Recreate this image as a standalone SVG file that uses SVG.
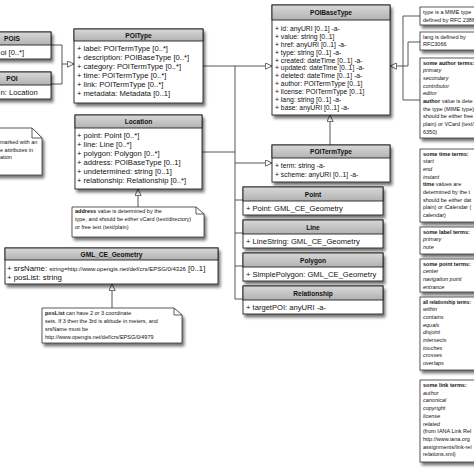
<svg xmlns="http://www.w3.org/2000/svg" width="474" height="474" viewBox="0 0 474 474">
<defs>
<style>
.box{fill:#fff;stroke:#222;stroke-width:0.9}
.hdr{fill:url(#hg);stroke:#222;stroke-width:0.9}
.note{fill:#fff;stroke:#333;stroke-width:0.8}
.fold{fill:none;stroke:#333;stroke-width:0.8}
text{font-family:"Liberation Sans",Arial,sans-serif;fill:#111}
.r{font-size:7.6px}
.rs{font-size:6.8px}
.rg{font-size:7.8px}
.h{font-size:6.6px;font-weight:bold;text-anchor:middle}
.n{font-size:5.5px}
.b{font-weight:bold}
.i{font-style:italic}
.c{stroke:#444;stroke-width:0.9;fill:none}
.a{marker-end:url(#tri)}
</style>
<linearGradient id="hg" x1="0" y1="0" x2="0" y2="1">
<stop offset="0" stop-color="#d8d8d8"/>
<stop offset="1" stop-color="#b2b2b2"/>
</linearGradient>
<filter id="sh" x="-10%" y="-10%" width="130%" height="140%">
<feGaussianBlur in="SourceAlpha" stdDeviation="1.4"/>
<feOffset dx="1.5" dy="2.5"/>
<feComponentTransfer><feFuncA type="linear" slope="0.55"/></feComponentTransfer>
<feMerge><feMergeNode/><feMergeNode in="SourceGraphic"/></feMerge>
</filter>
<marker id="tri" viewBox="0 0 10 10" refX="10" refY="5" markerWidth="7" markerHeight="7" markerUnits="userSpaceOnUse" orient="auto">
<path d="M0.5,0.5 L10,5 L0.5,9.5 Z" fill="#fff" stroke="#444" stroke-width="1.2"/>
</marker>
</defs>
<rect width="474" height="474" fill="#fff"/>

<g id="connectors">
<path class="c" d="M51,45 H62 V84 H51"/>
<path class="c a" d="M62,64 H74"/>
<path class="c a" d="M203,66 H272"/>
<path class="c" d="M235,66 V299"/>
<path class="c" d="M202,152 H235"/>
<path class="c a" d="M235,163 H272"/>
<path class="c" d="M235,200 H243 M235,233 H243 M235,266 H243 M235,299 H243"/>
<path class="c a" d="M330,145 V115"/>
<path class="c a" d="M408,66 H390"/>
<path class="c" d="M408,66 V42 H420"/>
<path class="c" d="M420,16 H403 V100 H420"/>
<path class="c a" d="M138,207 V189"/>
<path class="c a" d="M112,308 V284"/>
</g>

<g id="POIS">
<rect class="box" x="-29" y="32" width="80" height="27" filter="url(#sh)"/>
<rect class="hdr" x="-29" y="32" width="80" height="13"/>
<text class="h" x="12" y="41">POIS</text>
<text class="r" x="0.5" y="55">oi [0..*]</text>
</g>

<g id="POI">
<rect class="box" x="-29" y="72" width="80" height="27" filter="url(#sh)"/>
<rect class="hdr" x="-29" y="72" width="80" height="13"/>
<text class="h" x="12" y="81">POI</text>
<text class="r" x="0.5" y="95">n: Location</text>
</g>

<g id="POIType">
<rect class="box" x="74" y="29" width="129" height="74" filter="url(#sh)"/>
<rect class="hdr" x="74" y="29" width="129" height="12"/>
<text class="h" x="138.5" y="37.5">POIType</text>
<text class="r" x="77" y="51">+ label: POITermType [0..*]</text>
<text class="r" x="77" y="60">+ description: POIBaseType [0..*]</text>
<text class="r" x="77" y="69">+ category: POITermType [0..*]</text>
<text class="r" x="77" y="78">+ time: POITermType [0..*]</text>
<text class="r" x="77" y="87">+ link: POITermType [0..*]</text>
<text class="r" x="77" y="96">+ metadata: Metadata [0..1]</text>
</g>

<g id="Location">
<rect class="box" x="75" y="115" width="127" height="74" filter="url(#sh)"/>
<rect class="hdr" x="75" y="115" width="127" height="13"/>
<text class="h" x="138.5" y="124">Location</text>
<text class="r" x="77" y="137.7">+ point: Point [0..*]</text>
<text class="r" x="77" y="146.7">+ line: Line [0..*]</text>
<text class="r" x="77" y="155.7">+ polygon: Polygon [0..*]</text>
<text class="r" x="77" y="164.7">+ address: POIBaseType [0..1]</text>
<text class="r" x="77" y="173.7">+ undetermined: string [0..1]</text>
<text class="r" x="77" y="182.7">+ relationship: Relationship [0..*]</text>
</g>

<g id="POIBaseType">
<rect class="box" x="272" y="5" width="118" height="110" filter="url(#sh)"/>
<rect class="hdr" x="272" y="5" width="118" height="15"/>
<text class="h" x="331" y="15">POIBaseType</text>
<text class="rs" x="275" y="30.9">+ id: anyURI [0..1] -a-</text>
<text class="rs" x="275" y="38.8">+ value: string [0..1]</text>
<text class="rs" x="275" y="46.7">+ href: anyURI [0..1] -a-</text>
<text class="rs" x="275" y="54.6">+ type: string [0..1] -a-</text>
<text class="rs" x="275" y="62.5">+ created: dateTime [0..1] -a-</text>
<text class="rs" x="275" y="70.4">+ updated: dateTime [0..1] -a-</text>
<text class="rs" x="275" y="78.3">+ deleted: dateTime [0..1] -a-</text>
<text class="rs" x="275" y="86.2">+ author: POITermType [0..1]</text>
<text class="rs" x="275" y="94.1">+ license: POITermType [0..1]</text>
<text class="rs" x="275" y="102">+ lang: string [0..1] -a-</text>
<text class="rs" x="275" y="109.9">+ base: anyURI [0..1] -a-</text>
</g>

<g id="POITermType">
<rect class="box" x="272" y="145" width="118" height="37" filter="url(#sh)"/>
<rect class="hdr" x="272" y="145" width="118" height="13"/>
<text class="h" x="331" y="154">POITermType</text>
<text class="rs" x="275" y="168.4">+ term: string -a-</text>
<text class="rs" x="275" y="177.4">+ scheme: anyURI [0..1] -a-</text>
</g>

<g id="Point">
<rect class="box" x="243" y="187" width="140" height="28" filter="url(#sh)"/>
<rect class="hdr" x="243" y="187" width="140" height="14"/>
<text class="h" x="313" y="196.5">Point</text>
<text class="r" x="246" y="211">+ Point: GML_CE_Geometry</text>
</g>

<g id="Line">
<rect class="box" x="243" y="220" width="140" height="28" filter="url(#sh)"/>
<rect class="hdr" x="243" y="220" width="140" height="14"/>
<text class="h" x="313" y="229.5">Line</text>
<text class="r" x="246" y="244">+ LineString: GML_CE_Geometry</text>
</g>

<g id="Polygon">
<rect class="box" x="243" y="253" width="140" height="28" filter="url(#sh)"/>
<rect class="hdr" x="243" y="253" width="140" height="14"/>
<text class="h" x="313" y="262.5">Polygon</text>
<text class="r" x="246" y="277">+ SimplePolygon: GML_CE_Geometry</text>
</g>

<g id="Relationship">
<rect class="box" x="243" y="286" width="140" height="28" filter="url(#sh)"/>
<rect class="hdr" x="243" y="286" width="140" height="14"/>
<text class="h" x="313" y="295.5">Relationship</text>
<text class="r" x="246" y="310">+ targetPOI: anyURI -a-</text>
</g>

<g id="GML_CE_Geometry">
<rect class="box" x="5" y="248" width="213" height="36" filter="url(#sh)"/>
<rect class="hdr" x="5" y="248" width="213" height="12"/>
<text class="h" x="111.5" y="256.5">GML_CE_Geometry</text>
<text class="rg" x="7" y="270.8">+ srsName: <tspan style="font-size:6px">string=http://www.opengis.net/def/crs/EPSG/0/4326</tspan> [0..1]</text>
<text class="rg" x="7" y="279.8">+ posList: string</text>
</g>

<g id="note-left">
<path class="note" d="M-10,128 H32 L42,138 V175 H-10 Z" filter="url(#sh)"/>
<path class="fold" d="M32,128 V138 H42"/>
<text class="n" x="0" y="144">marked with an</text>
<text class="n" x="0" y="151.5">e attributes in</text>
<text class="n" x="0" y="159">ation</text>
</g>

<g id="note-address">
<path class="note" d="M72,207 H196 L204,214 V237 H72 Z" filter="url(#sh)"/>
<path class="fold" d="M196,207 V214 H204"/>
<text class="n" x="75" y="213"><tspan class="b">address</tspan> value is determined by the</text>
<text class="n" x="75" y="221">type, and should be either vCard (text/directory)</text>
<text class="n" x="75" y="229">or free text (text/plain)</text>
</g>

<g id="note-poslist">
<path class="note" d="M42,308 H174 L182,315 V343 H42 Z" filter="url(#sh)"/>
<path class="fold" d="M174,308 V315 H182"/>
<text class="n" x="45" y="314.5"><tspan class="b">posList</tspan> can have 2 or 3 coordinate</text>
<text class="n" x="45" y="322.8">sets. If 3 then the 3rd is altitude in meters, and</text>
<text class="n" x="45" y="331.1">srsName must be</text>
<text class="n" x="45" y="339.4">http://www.opengis.net/def/crs/EPSG/0/4979</text>
</g>

<g id="note-type">
<rect class="note" x="420" y="7" width="70" height="18" filter="url(#sh)"/>
<text class="n" x="423" y="14">type is a MIME type</text>
<text class="n" x="423" y="21.5">defined by RFC 2388</text>
</g>

<g id="note-lang">
<rect class="note" x="420" y="32" width="70" height="18" filter="url(#sh)"/>
<text class="n" x="423" y="38.5">lang is defined by</text>
<text class="n" x="423" y="46">RFC3066</text>
</g>

<g id="note-author">
<rect class="note" x="420" y="58" width="70" height="80" filter="url(#sh)"/>
<text class="n b" x="423" y="64.5">some author terms:</text>
<text class="n i" x="423" y="72.2">primary</text>
<text class="n i" x="423" y="79.9">secondary</text>
<text class="n i" x="423" y="87.6">contributor</text>
<text class="n i" x="423" y="95.3">editor</text>
<text class="n" x="423" y="103"><tspan class="b">author</tspan> value is dete</text>
<text class="n" x="423" y="110.7">the type (MIME type)</text>
<text class="n" x="423" y="118.4">should be either free</text>
<text class="n" x="423" y="126.1">plain) or VCard (text/</text>
<text class="n" x="423" y="133.8">6350)</text>
</g>

<g id="note-time">
<rect class="note" x="420" y="149" width="70" height="73" filter="url(#sh)"/>
<text class="n b" x="423" y="155.5">some time terms:</text>
<text class="n i" x="423" y="163.2">start</text>
<text class="n i" x="423" y="170.9">end</text>
<text class="n i" x="423" y="178.6">instant</text>
<text class="n" x="423" y="186.3"><tspan class="b">time</tspan> values are</text>
<text class="n" x="423" y="194">determined by the t</text>
<text class="n" x="423" y="201.7">should be either dat</text>
<text class="n" x="423" y="209.4">plain) or iCalendar (</text>
<text class="n" x="423" y="217.1">calendar)</text>
</g>

<g id="note-label">
<rect class="note" x="420" y="227" width="70" height="27" filter="url(#sh)"/>
<text class="n b" x="423" y="233.5">some label terms:</text>
<text class="n i" x="423" y="241.2">primary</text>
<text class="n i" x="423" y="248.9">note</text>
</g>

<g id="note-point">
<rect class="note" x="420" y="259" width="70" height="33" filter="url(#sh)"/>
<text class="n b" x="423" y="265.5">some point terms:</text>
<text class="n i" x="423" y="273.2">center</text>
<text class="n i" x="423" y="280.9">navigation point</text>
<text class="n i" x="423" y="288.6">entrance</text>
</g>

<g id="note-relationship">
<rect class="note" x="420" y="297" width="70" height="73" filter="url(#sh)"/>
<text class="b" x="423" y="303.5" style="font-size:4.6px">all relationship terms:</text>
<text class="n i" x="423" y="311.2">within</text>
<text class="n i" x="423" y="318.9">contains</text>
<text class="n i" x="423" y="326.6">equals</text>
<text class="n i" x="423" y="334.3">disjoint</text>
<text class="n i" x="423" y="342">intersects</text>
<text class="n i" x="423" y="349.7">touches</text>
<text class="n i" x="423" y="357.4">crosses</text>
<text class="n i" x="423" y="365.1">overlaps</text>
</g>

<g id="note-link">
<rect class="note" x="420" y="380" width="70" height="82" filter="url(#sh)"/>
<text class="n b" x="423" y="387">some link terms:</text>
<text class="n i" x="423" y="394.7">author</text>
<text class="n i" x="423" y="402.4">canonical</text>
<text class="n i" x="423" y="410.1">copyright</text>
<text class="n i" x="423" y="417.8">license</text>
<text class="n i" x="423" y="425.5">related</text>
<text class="n" x="423" y="433.2">(from IANA Link Rel</text>
<text class="n" x="423" y="440.9">http://www.iana.org</text>
<text class="n" x="423" y="448.6">assignments/link-rel</text>
<text class="n" x="423" y="456.3">relations.xml)</text>
</g>
</svg>
